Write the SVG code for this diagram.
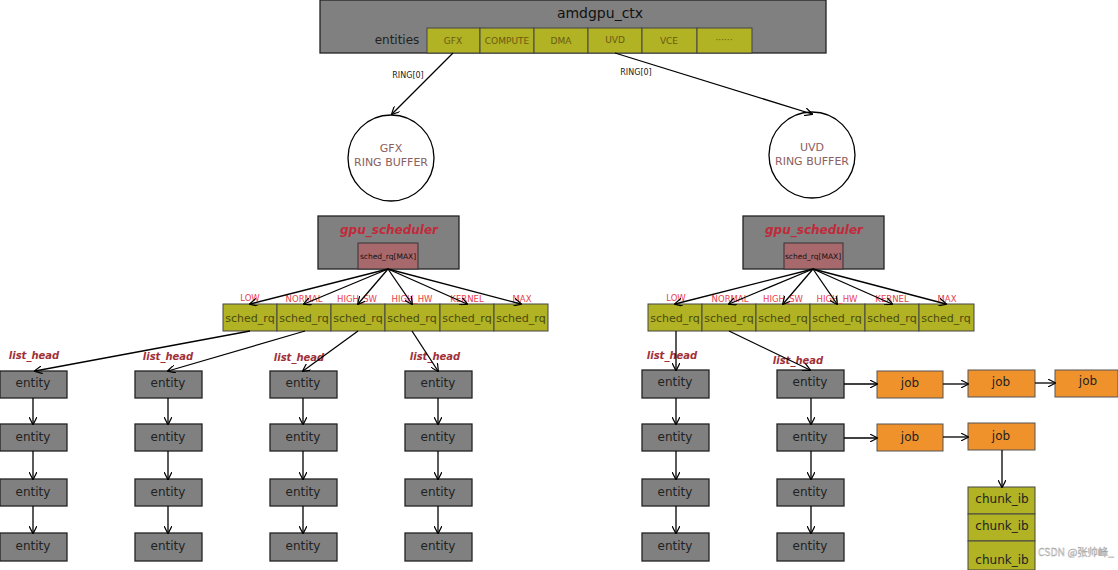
<svg xmlns="http://www.w3.org/2000/svg" width="1118" height="570" viewBox="0 0 1118 570">
<style>
text{font-family:"DejaVu Sans","Liberation Sans",sans-serif;text-anchor:middle;dominant-baseline:central}
.g{fill:#808080;stroke:#222;stroke-width:1.3}
.o{fill:#b1b224;stroke:#444;stroke-width:1}
.j{fill:#f0922c;stroke:#555;stroke-width:1}
.p{fill:#a8696c;stroke:#333;stroke-width:1}
.c{fill:#fff;stroke:#000;stroke-width:1.3}
.t{font-size:12px;fill:#222}
.s{font-size:11px;fill:#4a4a10}
.e{font-size:9px;fill:#6a5a10}
.r{font-size:8.5px;fill:#e8404a}
.lh{font-size:10px;fill:#a03038;font-weight:bold;font-style:italic}
.gs{font-size:12px;fill:#c02a3a;font-weight:bold;font-style:italic}
.rb{font-size:11px;fill:#8a6060}
.l path{stroke:#000;stroke-width:1.3;fill:none;marker-end:url(#a)}
</style>
<defs><marker id="a" viewBox="0 0 10 10" refX="9" refY="5" markerWidth="8" markerHeight="8" orient="auto" markerUnits="userSpaceOnUse"><path d="M0,0L10,5L0,10" fill="none" stroke="#000" stroke-width="1.5"/></marker></defs>
<rect width="1118" height="570" fill="#fff"/>
<g id="ctx">
<rect class="g" x="320" y="0" width="506" height="53"/>
<text x="600" y="13" style="font-size:14px;fill:#111">amdgpu_ctx</text>
<text x="397" y="40" class="t">entities</text>
<rect class="o" x="427" y="28" width="53" height="25"/><text x="453" y="41" class="e">GFX</text>
<rect class="o" x="480" y="28" width="54" height="25"/><text x="507" y="41" class="e">COMPUTE</text>
<rect class="o" x="534" y="28" width="54" height="25"/><text x="561" y="41" class="e">DMA</text>
<rect class="o" x="588" y="28" width="54" height="25"/><text x="615" y="40" class="e">UVD</text>
<rect class="o" x="642" y="28" width="55" height="25"/><text x="669" y="41" class="e">VCE</text>
<rect class="o" x="697" y="28" width="55" height="25"/><text x="724" y="40" class="e">······</text>
</g>
<g id="rings">
<circle class="c" cx="391" cy="158" r="43"/><text x="391" y="148" class="rb">GFX</text><text x="391" y="162" class="rb">RING BUFFER</text>
<circle class="c" cx="812" cy="155" r="43"/><text x="812" y="147" class="rb">UVD</text><text x="812" y="161" class="rb">RING BUFFER</text>
<text x="408" y="75" style="font-size:8px;fill:#222">RING[0]</text>
<text x="636" y="72" style="font-size:8px;fill:#222">RING[0]</text>
</g>
<g id="sched-left">
<rect class="g" x="318" y="216" width="141" height="53"/><text x="389" y="230" class="gs">gpu_scheduler</text>
<rect class="p" x="358" y="243" width="60" height="26"/><text x="388" y="256" style="font-size:7.5px;fill:#111">sched_rq[MAX]</text>
</g>
<g id="sched-right">
<rect class="g" x="743" y="216" width="141" height="53"/><text x="814" y="230" class="gs">gpu_scheduler</text>
<rect class="p" x="784" y="243" width="59" height="26"/><text x="813" y="256" style="font-size:7.5px;fill:#111">sched_rq[MAX]</text>
</g>
<g id="rq-left">
<rect class="o" x="223" y="304" width="54" height="27"/><rect class="o" x="277" y="304" width="54" height="27"/><rect class="o" x="331" y="304" width="54" height="27"/><rect class="o" x="385" y="304" width="55" height="27"/><rect class="o" x="440" y="304" width="54" height="27"/><rect class="o" x="494" y="304" width="54" height="27"/>
<text x="250" y="318" class="s">sched_rq</text><text x="304" y="318" class="s">sched_rq</text><text x="358" y="318" class="s">sched_rq</text><text x="412" y="318" class="s">sched_rq</text><text x="467" y="318" class="s">sched_rq</text><text x="521" y="318" class="s">sched_rq</text>
<text x="250" y="298" class="r">LOW</text><text x="304" y="299" class="r">NORMAL</text><text x="357" y="299" class="r">HIGH_SW</text><text x="412" y="299" class="r">HIGH_HW</text><text x="467" y="299" class="r">KERNEL</text><text x="522" y="299" class="r">MAX</text>
</g>
<g id="rq-right">
<rect class="o" x="648" y="304" width="54" height="27"/><rect class="o" x="702" y="304" width="54" height="27"/><rect class="o" x="756" y="304" width="54" height="27"/><rect class="o" x="810" y="304" width="55" height="27"/><rect class="o" x="865" y="304" width="54" height="27"/><rect class="o" x="919" y="304" width="55" height="27"/>
<text x="675" y="318" class="s">sched_rq</text><text x="729" y="318" class="s">sched_rq</text><text x="783" y="318" class="s">sched_rq</text><text x="837" y="318" class="s">sched_rq</text><text x="892" y="318" class="s">sched_rq</text><text x="946" y="318" class="s">sched_rq</text>
<text x="676" y="298" class="r">LOW</text><text x="730" y="299" class="r">NORMAL</text><text x="783" y="299" class="r">HIGH_SW</text><text x="837" y="299" class="r">HIGH_HW</text><text x="892" y="299" class="r">KERNEL</text><text x="947" y="299" class="r">MAX</text>
</g>
<g id="labels">
<text x="34" y="355" class="lh">list_head</text><text x="168" y="356" class="lh">list_head</text><text x="299" y="357" class="lh">list_head</text><text x="435" y="356" class="lh">list_head</text>
<text x="672" y="355" class="lh">list_head</text><text x="798" y="360" class="lh">list_head</text>
</g>
<g id="entities">
<g><rect class="g" x="0" y="371" width="67" height="27"/><rect class="g" x="0" y="424" width="67" height="27"/><rect class="g" x="0" y="479" width="67" height="27"/><rect class="g" x="0" y="533" width="67" height="28"/></g>
<g><rect class="g" x="135" y="371" width="67" height="27"/><rect class="g" x="135" y="424" width="67" height="27"/><rect class="g" x="135" y="479" width="67" height="27"/><rect class="g" x="135" y="533" width="67" height="28"/></g>
<g><rect class="g" x="270" y="371" width="67" height="27"/><rect class="g" x="270" y="424" width="67" height="27"/><rect class="g" x="270" y="479" width="67" height="27"/><rect class="g" x="270" y="533" width="67" height="28"/></g>
<g><rect class="g" x="405" y="371" width="67" height="27"/><rect class="g" x="405" y="424" width="67" height="27"/><rect class="g" x="405" y="479" width="67" height="27"/><rect class="g" x="405" y="533" width="67" height="28"/></g>
<g><rect class="g" x="642" y="370" width="67" height="28"/><rect class="g" x="642" y="424" width="67" height="27"/><rect class="g" x="642" y="479" width="67" height="27"/><rect class="g" x="642" y="533" width="67" height="28"/></g>
<g><rect class="g" x="777" y="370" width="67" height="28"/><rect class="g" x="777" y="424" width="67" height="27"/><rect class="g" x="777" y="479" width="67" height="27"/><rect class="g" x="777" y="533" width="67" height="28"/></g>
<g>
<text x="33" y="383" class="t">entity</text><text x="33" y="437" class="t">entity</text><text x="33" y="492" class="t">entity</text><text x="33" y="546" class="t">entity</text>
<text x="168" y="383" class="t">entity</text><text x="168" y="437" class="t">entity</text><text x="168" y="492" class="t">entity</text><text x="168" y="546" class="t">entity</text>
<text x="303" y="383" class="t">entity</text><text x="303" y="437" class="t">entity</text><text x="303" y="492" class="t">entity</text><text x="303" y="546" class="t">entity</text>
<text x="438" y="383" class="t">entity</text><text x="438" y="437" class="t">entity</text><text x="438" y="492" class="t">entity</text><text x="438" y="546" class="t">entity</text>
<text x="675" y="382" class="t">entity</text><text x="675" y="437" class="t">entity</text><text x="675" y="492" class="t">entity</text><text x="675" y="546" class="t">entity</text>
<text x="810" y="382" class="t">entity</text><text x="810" y="437" class="t">entity</text><text x="810" y="492" class="t">entity</text><text x="810" y="546" class="t">entity</text>
</g>
</g>
<g id="jobs">
<rect class="j" x="877" y="371" width="66" height="27"/><text x="910" y="383" class="t">job</text>
<rect class="j" x="968" y="370" width="67" height="27"/><text x="1001" y="382" class="t">job</text>
<rect class="j" x="1055" y="370" width="63" height="27"/><text x="1088" y="381" class="t">job</text>
<rect class="j" x="877" y="424" width="66" height="27"/><text x="910" y="437" class="t">job</text>
<rect class="j" x="968" y="423" width="67" height="27"/><text x="1001" y="436" class="t">job</text>
</g>
<g id="chunks">
<rect class="o" x="968" y="487" width="67" height="27"/><text x="1002" y="499" class="t">chunk_ib</text>
<rect class="o" x="968" y="514" width="67" height="27"/><text x="1002" y="526" class="t">chunk_ib</text>
<rect class="o" x="968" y="541" width="67" height="29"/><text x="1002" y="560" class="t">chunk_ib</text>
</g>
<text x="1038" y="551" textLength="76" lengthAdjust="spacingAndGlyphs" style="text-anchor:start;font-size:10px;fill:#fff;stroke:#999;stroke-width:0.4;font-family:'Noto Sans CJK SC',sans-serif">CSDN @张帅峰_</text>
<g id="connectors" class="l">
<path d="M453,53L392,114"/><path d="M615,53L812,114"/>
<path d="M388,269L250,304"/><path d="M388,269L304,304"/><path d="M388,269L358,304"/><path d="M388,269L412,304"/><path d="M388,269L467,304"/><path d="M388,269L521,304"/>
<path d="M813,269L675,304"/><path d="M813,269L729,304"/><path d="M813,269L783,304"/><path d="M813,269L837,304"/><path d="M813,269L892,304"/><path d="M813,269L946,304"/>
<path d="M250,331L35,371"/><path d="M305,331L168,371"/><path d="M358,331L303,371"/><path d="M412,331L438,371"/>
<path d="M676,331L676,370"/><path d="M729,331L810,370"/>
<path d="M33,398V424"/><path d="M33,451V479"/><path d="M33,506V533"/>
<path d="M168,398V424"/><path d="M168,451V479"/><path d="M168,506V533"/>
<path d="M303,398V424"/><path d="M303,451V479"/><path d="M303,506V533"/>
<path d="M438,398V424"/><path d="M438,451V479"/><path d="M438,506V533"/>
<path d="M676,398V424"/><path d="M676,451V479"/><path d="M676,506V533"/>
<path d="M811,398V424"/><path d="M811,451V479"/><path d="M811,506V533"/>
<path d="M844,384H877"/><path d="M943,384H968"/><path d="M1035,383H1055"/>
<path d="M844,438H877"/><path d="M943,437H968"/><path d="M1002,450V487"/>
</g>
</svg>
